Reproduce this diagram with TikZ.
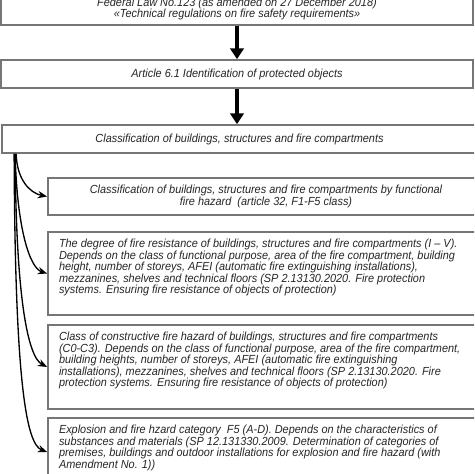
\documentclass[tikz,border=0pt]{standalone}
\usepackage{fontspec}
\setmainfont{Liberation Sans}[FakeStretch=0.93]
\usetikzlibrary{arrows.meta}
\definecolor{bordergray}{HTML}{767676}
\definecolor{txt}{HTML}{262626}
\newcommand\myboxfont{\fontsize{8.8}{8.7}\selectfont\itshape\lineskiplimit=-6pt\relax}
\newcommand\myboxfontb{\fontsize{8.8}{9.4}\selectfont\itshape\lineskiplimit=-6pt\relax}
\tikzset{
  box/.style={draw=bordergray, line width=1.3pt, fill=white, inner sep=0pt,
    text=txt, font=\myboxfont, align=center},
  lbox/.style={box, inner xsep=8.25pt, inner ysep=0pt, align=left},
  bigarrow/.style={line width=2.9pt, -{Triangle[width=10pt,length=8pt]}},
  curvearrow/.style={line width=1pt, -{Stealth[length=7pt,width=5.5pt]}}
}
\begin{document}
\begin{tikzpicture}[x=0.75pt,y=-0.75pt]
\useasboundingbox (0,0) rectangle (474,474);
\clip (0,0) rectangle (474,474);
\fill[white] (0,0) rectangle (474,474);

\node[box, minimum width=354pt, minimum height=24pt] (b1) at (237,9)
  {Federal Law No.123 (as amended on 27 December 2018)\\
   «Technical regulations on fire safety requirements»};
\node[box, minimum width=354pt, minimum height=21pt] (b2) at (237,74)
  {Article 6.1 Identification of protected objects};
\node[box, minimum width=356.25pt, minimum height=21pt] (b3) at (239.5,139)
  {Classification of buildings, structures and fire compartments};
\node[box, minimum width=327pt, minimum height=27.75pt, font=\myboxfontb] (b4) at (266,196.5)
  {Classification of buildings, structures and fire compartments by functional\\
   fire hazard\ \ (article 32, F1-F5 class)};
\node[lbox] (b5) at (266,273.5)
  {\parbox[c][62.25pt][t]{310.5pt}{\raggedright\vspace*{5.2pt}%
   The degree of fire resistance of buildings, structures and fire compartments (I – V).\\
   Depends on the class of functional purpose, area of the fire compartment, building\\
   height, number of storeys, AFEI (automatic fire extinguishing installations),\\
   mezzanines, shelves and technical floors (SP 2.13130.2020. Fire protection\\
   systems. Ensuring fire resistance of objects of protection)}};
\node[lbox] (b6) at (266,367)
  {\parbox[c][63pt][t]{310.5pt}{\raggedright\vspace*{5.2pt}%
   Class of constructive fire hazard of buildings, structures and fire compartments\\
   (C0-C3). Depends on the class of functional purpose, area of the fire compartment,\\
   building heights, number of storeys, AFEI (automatic fire extinguishing\\
   installations), mezzanines, shelves and technical floors (SP 2.13130.2020. Fire\\
   protection systems. Ensuring fire resistance of objects of protection)}};
\node[lbox] (b7) at (266,459)
  {\parbox[c][61.5pt][t]{310.5pt}{\raggedright\vspace*{5.2pt}%
   Explosion and fire hzard category\ \ F5 (A-D). Depends on the characteristics of\\
   substances and materials (SP 12.131330.2009. Determination of categories of\\
   premises, buildings and outdoor installations for explosion and fire hazard (with\\
   Amendment No. 1))}};

\draw[bigarrow] (b1.south) -- (b2.north);
\draw[bigarrow] (b2.south) -- (b2.south |- b3.north);

\coordinate (s1) at ([xshift=11.25pt]b3.south west);
\coordinate (s2) at ([xshift=10.5pt]b3.south west);
\coordinate (s3) at ([xshift=10.5pt]b3.south west);
\coordinate (s4) at ([xshift=9.75pt]b3.south west);
\coordinate (t7) at ([yshift=5.25pt]b7.west);

\draw[curvearrow] (s1) .. controls (17,180) and (30,193) .. (b4.west);
\draw[curvearrow] (s2) .. controls (17,230) and (30,268) .. (b5.west);
\draw[curvearrow] (s3) .. controls (16,300) and (28,357) .. (b6.west);
\draw[curvearrow] (s4) .. controls (15,380) and (26,444) .. (t7);
\end{tikzpicture}
\end{document}
